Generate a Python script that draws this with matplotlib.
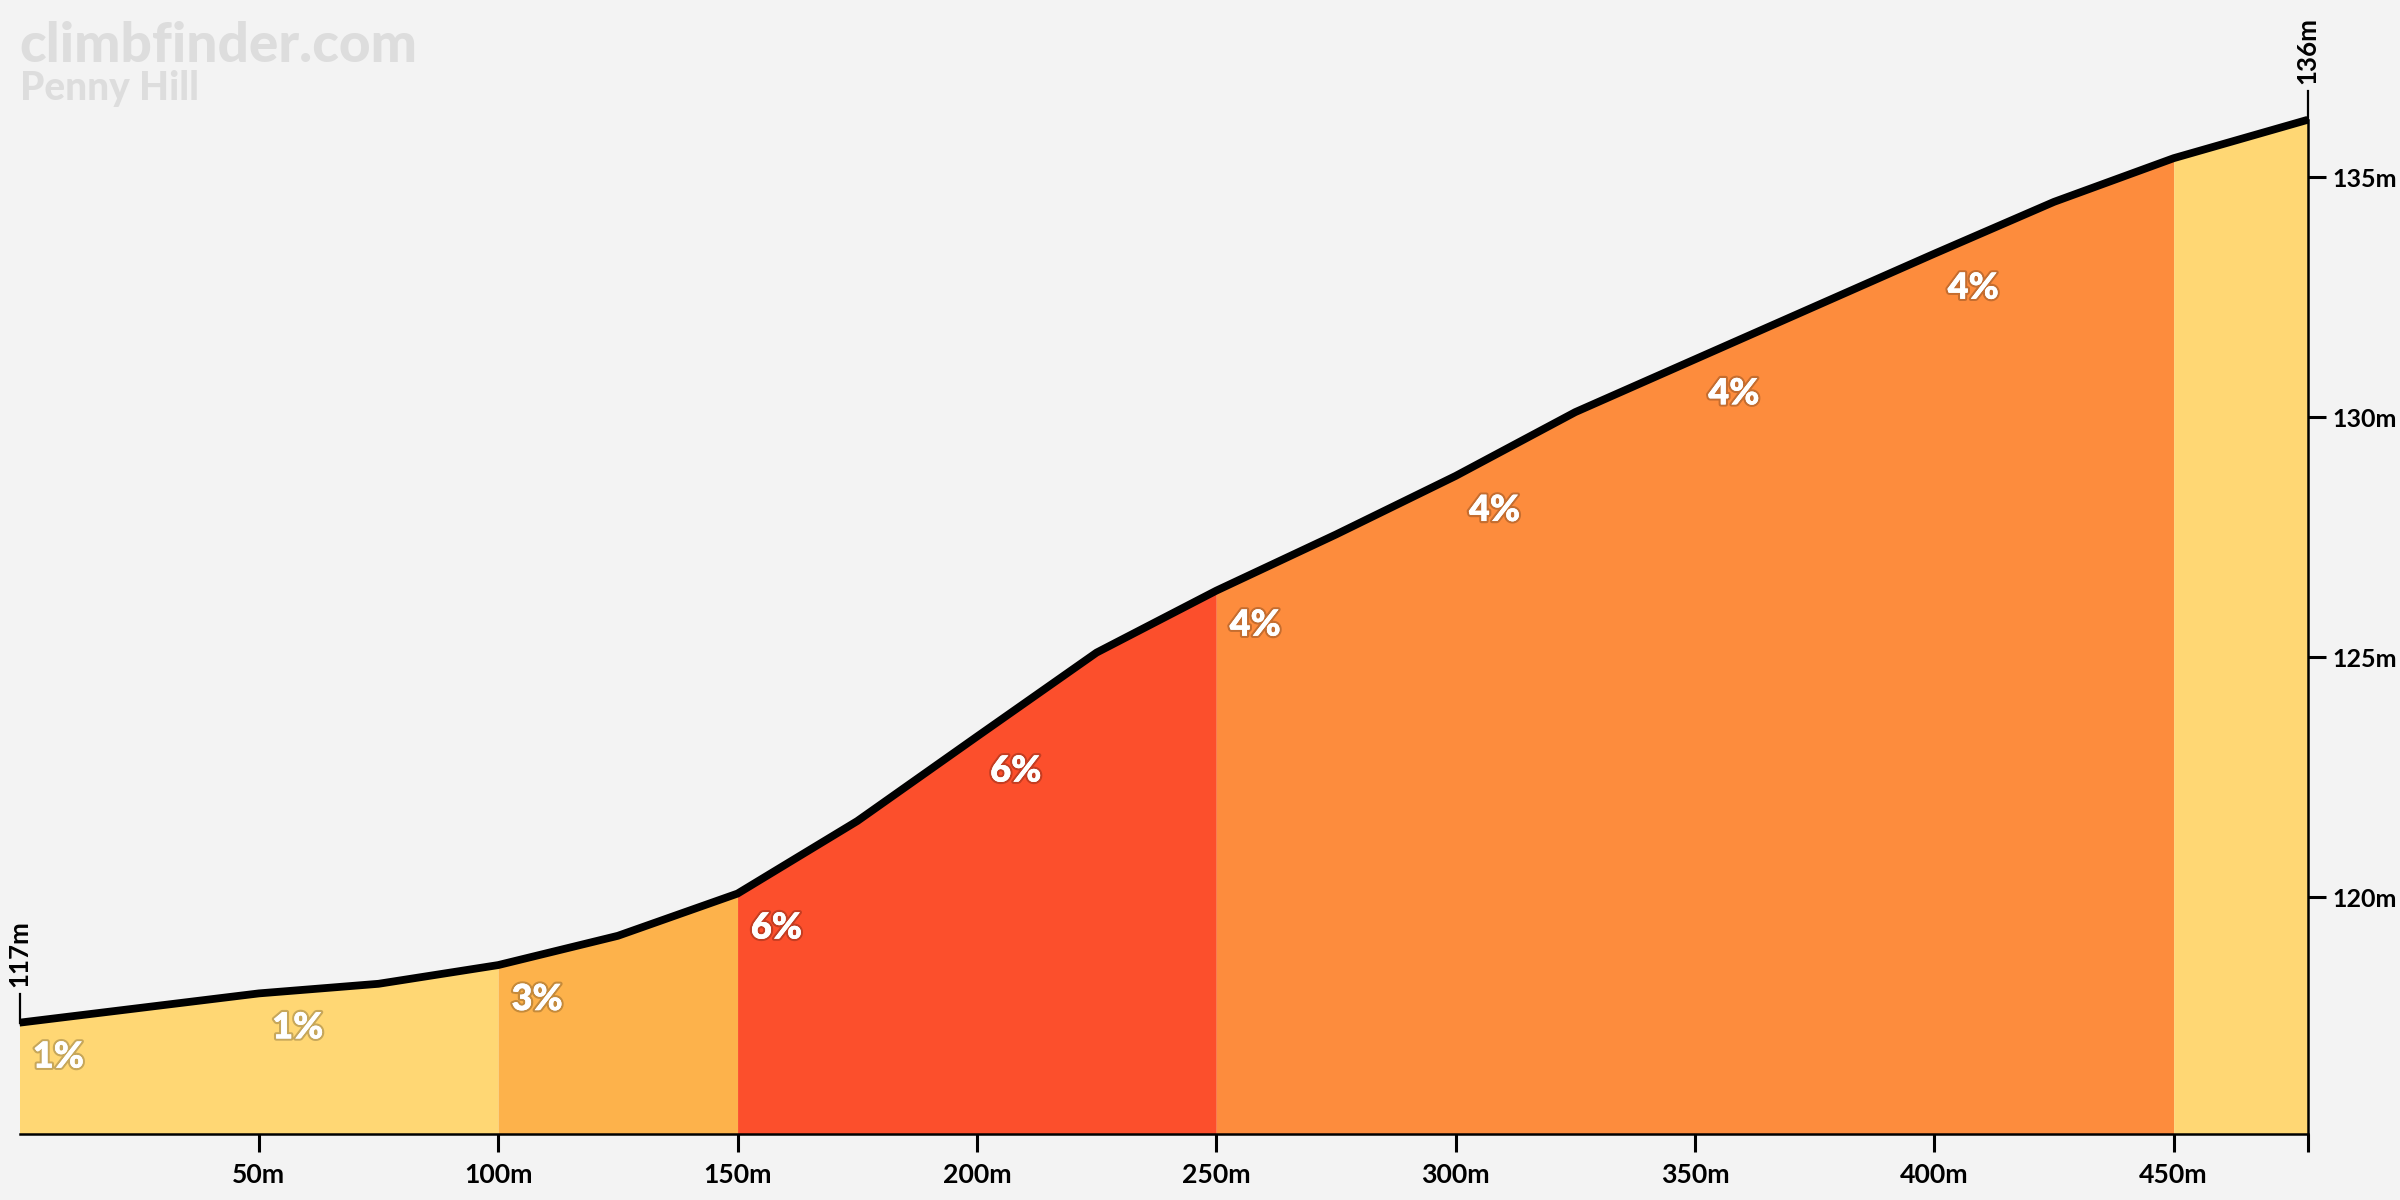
import matplotlib
matplotlib.use("Agg")
import matplotlib.pyplot as plt
import matplotlib.patheffects as pe
import numpy as np

# ---- data ----
distance_m = [0, 50, 75, 100, 125, 150, 175, 200, 225, 250, 275, 300, 325, 350, 375, 400, 425, 450, 478]
elevation_m = [117.39, 118.00, 118.20, 118.59, 119.20, 120.08, 121.59, 123.35, 125.10, 126.39,
               127.56, 128.78, 130.11, 131.21, 132.31, 133.41, 134.49, 135.40, 136.20]

segment_start = [0, 100, 150, 250, 450]
segment_end = [100, 150, 250, 450, 478]
segment_colors = ["#FFD774", "#FDB24B", "#FC4F2C", "#FD8C3D", "#FFD774"]

grade_label_dist = [0, 50, 100, 150, 200, 250, 300, 350, 400]
grade_labels = ["1%", "1%", "3%", "6%", "6%", "4%", "4%", "4%", "4%"]

xtick_vals = [50, 100, 150, 200, 250, 300, 350, 400, 450]
xtick_labels = ["50m", "100m", "150m", "200m", "250m", "300m", "350m", "400m", "450m"]
ytick_vals = [120, 125, 130, 135]
ytick_labels = ["120m", "125m", "130m", "135m"]

site_title = "climbfinder.com"
climb_name = "Penny Hill"
start_label = "117m"
end_label = "136m"

# ---- figure ----
BG = "#F3F3F3"
W, H = 2400, 1200
DPI = 200
fig = plt.figure(figsize=(W / DPI, H / DPI), dpi=DPI, facecolor=BG)

left_px, right_px, bottom_px, top_px = 19.5, 2307.7, 1134, 92
ax = fig.add_axes([left_px / W, 1 - bottom_px / H, (right_px - left_px) / W, (bottom_px - top_px) / H])
ax.set_facecolor(BG)

x_min, x_max = 0, distance_m[-1]
y_min = 120 - (bottom_px - 897.4) / 48.0
y_max = 120 + (897.4 - top_px) / 48.0
ax.set_xlim(x_min, x_max)
ax.set_ylim(y_min, y_max)

d = np.array(distance_m, dtype=float)
e = np.array(elevation_m, dtype=float)

for s0, s1, c in zip(segment_start, segment_end, segment_colors):
    m = (d >= s0) & (d <= s1)
    ax.fill_between(d[m], y_min, e[m], color=c, linewidth=0, zorder=1)

ax.plot(d, e, color="black", linewidth=2.8, solid_joinstyle="round",
        solid_capstyle="butt", zorder=3, clip_on=False)

font = "Lato"
label_fx = [pe.withStroke(linewidth=1.6, foreground=(0, 0, 0, 0.22)), pe.Normal()]
for gd, gl in zip(grade_label_dist, grade_labels):
    ge = e[d == gd][0]
    ax.annotate(gl, xy=(gd, ge), xytext=(4.8, -6.5), textcoords="offset points",
                ha="left", va="top", color="white", fontsize=13, fontweight="heavy",
                family=font, path_effects=label_fx, zorder=4)

# spines / ticks
for side in ["left", "top"]:
    ax.spines[side].set_visible(False)
ax.spines["bottom"].set_linewidth(0.9)
ax.spines["right"].set_linewidth(0.9)
ax.spines["right"].set_bounds(y_min, e[-1])
ax.spines["bottom"].set_zorder(5)
ax.spines["right"].set_zorder(5)

ax.set_xticks(xtick_vals + [x_max])
ax.set_xticklabels(xtick_labels + [""])
ax.yaxis.tick_right()
ax.set_yticks(ytick_vals)
ax.set_yticklabels(ytick_labels)
ax.tick_params(axis="x", length=6.5, width=1.1, pad=4.0, labelsize=9.6, colors="black")
ax.tick_params(axis="y", length=6.5, width=1.1, pad=2.3, labelsize=9.0, colors="black")
for t in ax.get_xticklabels() + ax.get_yticklabels():
    t.set_family(font)
    t.set_fontweight("bold")

# start / end markers
marker_len = 29 / 48.0
for xd, ye, lab in [(d[0], e[0], start_label), (d[-1], e[-1], end_label)]:
    ax.plot([xd, xd], [ye, ye + marker_len], color="black", linewidth=0.8, clip_on=False, zorder=5)
    ax.annotate(lab, xy=(xd, ye + marker_len), xytext=(0, 2.5), textcoords="offset points",
                rotation=90, ha="center", va="bottom", fontsize=9.3, fontweight="bold",
                family=font, color="black", annotation_clip=False)

fig.text(19 / W, 1 - 21 / H, site_title, ha="left", va="top", color="#DDDDDD",
         fontsize=19.8, fontweight="black", family=font)
fig.text(20 / W, 1 - 70 / H, climb_name, ha="left", va="top", color="#DDDDDD",
         fontsize=14, fontweight="black", family=font)

fig.savefig("out.png", dpi=DPI, facecolor=BG)
